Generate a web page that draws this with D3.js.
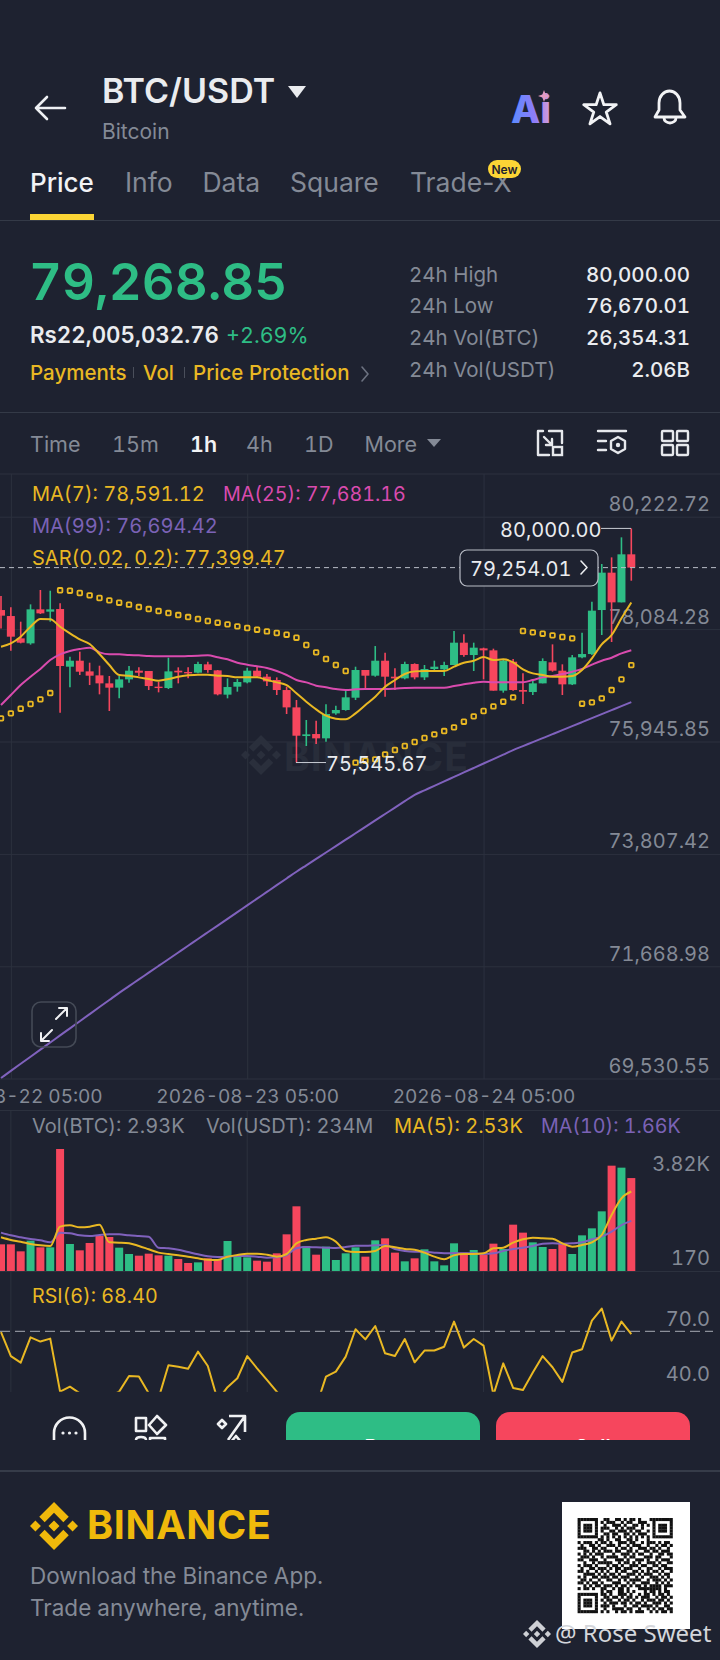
<!DOCTYPE html>
<html><head><meta charset="utf-8">
<style>html,body{margin:0;padding:0;background:#1e2230}svg{display:block}text{font-family:Inter,sans-serif;font-feature-settings:"tnum"}</style>
<script src="https://cdn.jsdelivr.net/npm/d3@7/dist/d3.min.js"></script>
</head><body><svg id="c" width="720" height="1660" viewBox="0 0 720 1660"></svg>
<script>
const opens=[78447,78333,77908,77813,78460,78416,78466,77369,77483,77280,77204,77052,76970,77128,77293,77287,76989,76963,77293,77268,77255,77414,77299,76837,76989,77071,77293,77179,77116,76925,76595,76050,76088,76006,76481,76545,76779,77306,77198,77483,77179,77147,77420,77166,77325,77319,77401,77826,77591,77718,77680,76913,77464,76925,76887,77052,77452,77293,77033,77547,77610,78447,79158,78593,79507];
const highs=[78714,78498,78225,78555,78828,78815,78574,77559,77655,77445,77388,77192,77192,77382,77357,77287,77078,77540,77357,77357,77464,77464,77306,77147,77135,77350,77382,77230,77166,76989,76735,76355,76342,76653,76627,76913,77369,77306,77762,77636,77338,77464,77433,77401,77483,77464,78048,77984,77826,77731,77712,77509,77515,77242,77128,77528,77794,77414,77591,78016,78606,79323,79449,79830,80000];
const lows=[78098,77674,77813,77788,78371,78225,76494,76976,77211,77020,76843,76526,76767,77065,77192,76925,76881,76944,77052,77147,77242,77255,76824,76767,76894,77052,77166,77001,76830,76469,75545.67,75860,75898,75942,76456,76532,76735,76957,77179,76798,76925,77128,77128,77116,77274,77192,77401,77559,77287,77128,76913,76875,76913,76659,76830,77052,77274,76830,77020,77528,77591,77972,77839,78593,79005];
const closes=[78340,77940,77826,78460,78384,78460,77382,77483,77274,77198,77052,76970,77128,77293,77255,77001,76963,77280,77261,77242,77420,77306,76843,76982,77078,77293,77179,77090,76925,76595,76056,76082,76006,76469,76545,76786,77306,77198,77483,77179,77147,77420,77166,77325,77369,77401,77826,77591,77731,77680,76913,77483,76925,76894,77052,77477,77293,77033,77547,77610,78435,79158,78593,79507,79254.01];
const ma7=[77750,77813,77940,78130,78276,78270,78130,78003,77889,77800,77610,77401,77211,77198,77166,77135,77103,77135,77179,77204,77217,77217,77198,77192,77166,77166,77166,77116,77071,77020,76862,76703,76557,76437,76380,76367,76481,76640,76798,76989,77116,77230,77280,77287,77287,77287,77369,77445,77483,77553,77496,77509,77452,77319,77242,77211,77179,77179,77192,77306,77528,77794,77972,78289,78591.12];
const ma25=[76640,76830,77020,77179,77325,77496,77604,77667,77705,77731,77642,77604,77604,77591,77585,77572,77566,77566,77566,77572,77578,77585,77547,77509,77445,77407,77376,77344,77287,77211,77116,77071,77008,76976,76944,76925,76938,76944,76944,76944,76951,76963,76970,76970,76970,76970,77001,77033,77065,77084,77071,77071,77071,77071,77116,77166,77192,77230,77274,77325,77407,77483,77540,77623,77681.16];
const ma99=[69544,69679,69814,69949,70084,70219,70354,70489,70624,70759,70894,71029,71164,71292,71420,71548,71676,71804,71932,72060,72188,72316,72444,72572,72700,72828,72956,73084,73212,73340,73468,73590,73712,73834,73956,74078,74200,74322,74444,74566,74688,74810,74932,75017,75102,75187,75272,75357,75442,75527,75612,75697,75782,75858,75934,76010,76086,76162,76238,76314,76390,76466,76542,76618,76694.42];
const sar=[76386,76481,76570,76659,76748,76868,78822,78815,78771,78726,78676,78631,78587,78549,78504,78466,78428,78390,78352,78314,78276,78238,78206,78175,78137,78105,78073,78041,78010,77978,77921,77782,77642,77515,77401,77287,75543,75581,75606,75701,75784,75860,75936,76012,76082,76145,76215,76323,76424,76526,76614,76703,76786,78048,78022,77997,77965,77934,77908,76665,76691,76767,76925,77128,77399.47];
const vols=[962,962,754,1071,873,873,3793,972,784,1002,1210,1180,863,675,625,685,635,625,526,408,427,546,517,1061,596,576,477,447,695,1259,2091,913,655,893,497,695,873,596,1081,1140,715,457,546,814,457,338,992,715,794,645,982,823,1546,1309,1021,883,823,992,675,1229,1437,1942,3298,3239,2930];
const volMa5=[1170,1091,1041,972,932,913,1487,1526,1467,1487,1546,1021,1012,992,913,814,715,675,635,596,546,507,497,596,645,685,685,655,596,675,992,1091,1130,1170,1041,764,734,734,764,913,873,823,804,715,596,517,635,675,675,695,843,863,1012,1111,1160,1140,1130,992,893,942,1021,1239,1833,2328,2530];
const volMa10=[1309,1229,1170,1120,1081,1021,1309,1289,1229,1210,1239,1259,1259,1229,1210,1190,863,843,804,734,665,606,586,596,616,616,596,566,576,645,843,883,873,863,853,883,922,922,932,942,823,764,744,744,715,695,705,695,695,675,695,764,823,863,913,982,992,982,992,1021,1111,1190,1338,1536,1660];
const rsi6=[69.5,56.5,52.9,66.7,64.4,66,37.1,39.8,36.2,32.5,32.5,34.4,37.1,45.6,45.3,36.2,33.5,51.5,50.7,49.6,58.9,51.1,32.5,39.5,44.4,56.5,49.8,43.5,37.1,30.7,27.1,28.9,28.9,45.3,48,56.2,71.1,65.6,72.9,58,56.5,65.8,53.1,59.5,59.5,61.6,75.3,61.1,65.8,62.2,35.3,52.5,39.1,38,47.5,56.5,50.4,42.4,58.4,60.2,75.8,82.4,64.9,75.3,68.4];
const priceTicks=[80222.72,78084.28,75945.85,73807.42,71668.98,69530.55];
const gridIdx=[1,25,49];
const timeLabels=["2026-08-22 05:00","2026-08-23 05:00","2026-08-24 05:00"];
const tabs=["Price","Info","Data","Square","Trade-X"];
const intervals=["Time","15m","1h","4h","1D","More"];
const statLabels=["24h High","24h Low","24h Vol(BTC)","24h Vol(USDT)"];
const statValues=["80,000.00","76,670.01","26,354.31","2.06B"];
const qrRows=["111111100110011010110100011111111","100000101011100101100111001000001","101110100100111010011010101011101","101110101110010101110010001011101","101110101001101110101100101011101","100000100110110011010111001000001","111111101010101010101010101111111","000000011010011001101000100000000","101110101101001110110010111010110","010011010011101001011100100101101","111001101100010110100111011010010","001101010111011001101001101101110","101010111000100111010110010011011","011101001011110010110001110110001","110011100100011101001110100101110","001001011111001011010100111010011","101110100010110100111011001101100","010011011101011011100100110010111","110100101010010110011010101101001","001111010101101001110101110010110","101001101110110111001010011101010","011010010011001010111100101110101","110101101000111001010011100101010","001010110111010110101101011110111","101101001100101101000111111110100","000000001011001101010001011010110","111111101101001110100101101011010","100000100110110101101011100101101","101110101011001011010010111011010","101110100101110110101101001110101","101110101110100010011011110100110","100000100100111101100100101011011","111111101010010110101110010101101"];

const BG="#1e2230",GREEN="#2ebd85",RED="#f6465d",YEL="#e9b823",PINK="#d94bae",PUR="#7b62b6",GRAY="#848a96",GRID="#2c313e";
const svg=d3.select("#c");
const defs=svg.append("defs");
defs.append("clipPath").attr("id","clipP").append("rect").attr("x",0).attr("y",474).attr("width",720).attr("height",605);
defs.append("clipPath").attr("id","clipR").append("rect").attr("x",0).attr("y",1300).attr("width",720).attr("height",91.7);
defs.append("clipPath").attr("id","clipB").append("rect").attr("x",0).attr("y",1400).attr("width",720).attr("height",40);
const ai=defs.append("linearGradient").attr("id","ai").attr("x1",0).attr("x2",1).attr("y1",0).attr("y2",0);
ai.append("stop").attr("offset","0").attr("stop-color","#5a8cff");
ai.append("stop").attr("offset",".6").attr("stop-color","#8f7cf8");
ai.append("stop").attr("offset","1").attr("stop-color","#d8a0d8");

function T(s,x,y,size,fill,weight,anchor,g){return (g||svg).append("text").text(s).attr("x",x).attr("y",y).attr("font-size",size).attr("fill",fill).attr("font-weight",weight||400).attr("text-anchor",anchor||"start");}
const logoPaths=["M38.73 53.2l24.59-24.58 24.6 24.6 14.3-14.31L63.32 0 24.43 38.9z","M0 63.31l14.3-14.31 14.31 14.31-14.31 14.3z","M38.73 73.41l24.59 24.59 24.6-24.6 14.31 14.29-38.9 38.91-38.91-38.88v-.03z","M98 63.31l14.3-14.31 14.31 14.3-14.31 14.32z","M77.83 63.3L63.32 48.78 52.59 59.51l-1.24 1.23-2.54 2.54 14.51 14.5 14.51-14.47z"];
function logo(x,y,s,fill,op){const g=svg.append("g").attr("transform",`translate(${x},${y}) scale(${s/126.61})`).attr("fill",fill).attr("opacity",op||1);logoPaths.forEach(d=>g.append("path").attr("d",d));}

// header
const ln=(d,w,c)=>svg.append("path").attr("d",d).attr("fill","none").attr("stroke",c||"#eef0f3").attr("stroke-width",w||3).attr("stroke-linecap","round").attr("stroke-linejoin","round");
ln("M36 108H65M47 97L36 108L47 119",2.6);
T("BTC/USDT",102,103,34,"#eaecef",600).attr("letter-spacing",.05);
svg.append("path").attr("d","M288 86H306L297 98Z").attr("fill","#eaecef");
T("Bitcoin",102,139,21,GRAY);
T("Ai",511,123,38,"url(#ai)",800);
svg.append("path").attr("d","M544 90L545.6 94.4L550 96L545.6 97.6L544 102L542.4 97.6L538 96L542.4 94.4Z").attr("fill","#e59bc0");
svg.append("path").attr("d",d3.symbol(d3.symbolStar,330)()).attr("transform","translate(600,110)").attr("fill","none").attr("stroke","#f2f3f5").attr("stroke-width",2.8).attr("stroke-linejoin","round");
ln("M655 117H685L680 110V103A10.5 12 0 0 0 659 103V110ZM664 118A6 5 0 0 0 676 118",2.8,"#f2f3f5");
const tabX=[30,125,202.5,290,410];
tabs.forEach((t,i)=>T(t,tabX[i],192,i==0?26:26.5,i==0?"#f2f3f5":GRAY,i==0?500:400).style("font-feature-settings","normal"));
svg.append("rect").attr("x",30).attr("y",214).attr("width",64).attr("height",6).attr("fill","#fcd535");
svg.append("rect").attr("x",0).attr("y",220).attr("width",720).attr("height",1).attr("fill","#343a47");
svg.append("rect").attr("x",488).attr("y",160).attr("width",33).attr("height",18).attr("rx",9).attr("fill","#fcd535");
T("New",504.5,173.5,12,"#1e2230",600,"middle");
T("79,268.85",29,300,51,GREEN,600);
T("Rs22,005,032.76",30,343,22.3,"#eaecef",600);
T("+2.69%",226,343,21.5,GREEN,400);
T("Payments",30,380,20.5,YEL,500);T("Vol",143,380,20.5,YEL,500);T("Price Protection",193,380,20.5,YEL,500);
[133,184].forEach(x=>svg.append("rect").attr("x",x).attr("y",367).attr("width",1).attr("height",11).attr("fill","#4a4f5b"));
ln("M362 367L368 374L362 381",1.6,"#6c7280");
const statY=[282,313,345,377];
statLabels.forEach((s,i)=>T(s,409,statY[i],20.5,GRAY));
statValues.forEach((s,i)=>T(s,690,statY[i],20.5,"#eaecef",500,"end"));
svg.append("rect").attr("x",0).attr("y",412).attr("width",720).attr("height",1).attr("fill","#343a47");
const intX=[30,112,190,246,304,364.5];
intervals.forEach((t,i)=>T(t,intX[i],452,21.5,i==2?"#f2f3f5":GRAY,i==2?600:400));
svg.append("path").attr("d","M427 439H441L434 447Z").attr("fill",GRAY);
// tool icons
ln("M549 431H562V443M549 455H538V431H543M544 437L552 445M546 445H552V439",2.4,"#e6e8ec");
svg.append("rect").attr("x",553).attr("y",447).attr("width",9).attr("height",8).attr("fill","none").attr("stroke","#e6e8ec").attr("stroke-width",2.4);
ln("M598 431H626M598 441H606M598 450H606M618 437L625 441V449L618 453L611 449V441Z",2.4,"#e6e8ec");
svg.append("circle").attr("cx",618).attr("cy",445).attr("r",2.2).attr("fill","#e6e8ec");
[[662,431],[677,431],[662,445],[677,445]].forEach(p=>svg.append("rect").attr("x",p[0]).attr("y",p[1]).attr("width",11).attr("height",10).attr("rx",1).attr("fill","none").attr("stroke","#e6e8ec").attr("stroke-width",2.4));

// scales
const x=d3.scaleLinear().domain([0,64]).range([1,631.3]);
const y=d3.scaleLinear().domain([80222.72,69530.55]).range([516.7,1078.7]);
const yV=d3.scaleLinear().domain([170,3820]).range([1271,1148.1]);
const yR=d3.scaleLinear().domain([70,40]).range([1331.3,1386.3]);
const idx=d3.range(opens.length);

// grid
svg.append("rect").attr("x",0).attr("y",473.5).attr("width",720).attr("height",1).attr("fill",GRID);
const gx=svg.append("g").attr("transform","translate(0,1079)").call(d3.axisBottom(x).tickValues(gridIdx).tickSize(-605).tickFormat((d,i)=>timeLabels[i]));
gx.select(".domain").attr("stroke",GRID).attr("d","M0,0H720");
gx.selectAll("line").attr("stroke",GRID);
gx.selectAll("text").attr("font-size",19).attr("fill",GRAY).attr("y",0).attr("dy",24);
gx.attr("font-family",null);
const gy=svg.append("g").call(d3.axisRight(y).tickValues(priceTicks).tickSize(720).tickFormat(d3.format(",.2f")));
gy.attr("font-family",null);
gy.select(".domain").remove();
gy.selectAll("line").attr("stroke",GRID);
gy.selectAll("text").attr("text-anchor","end").attr("x",710).attr("dy",-6).attr("font-size",20).attr("fill",GRAY);
gy.selectAll(".tick").filter(d=>d===69530.55).select("line").remove();
// lower pane verticals
[[1110,1392]].forEach(r=>gridIdx.forEach(i=>svg.append("line").attr("x1",x(i)).attr("x2",x(i)).attr("y1",r[0]).attr("y2",r[1]).attr("stroke",GRID)));
svg.append("rect").attr("x",0).attr("y",1110).attr("width",720).attr("height",1).attr("fill",GRID);
svg.append("rect").attr("x",0).attr("y",1271).attr("width",720).attr("height",1).attr("fill",GRID);

// watermark
logo(241,735,40,"#2a2f3c");
T("BINANCE",284,771,39,"#282d3a",700).attr("letter-spacing",1);

// candles
const P=svg.append("g").attr("clip-path","url(#clipP)");
const col=i=>closes[i]>=opens[i]?GREEN:RED;
P.selectAll(".w").data(idx).join("line").attr("x1",x).attr("x2",x).attr("y1",i=>y(highs[i])).attr("y2",i=>y(lows[i])).attr("stroke",col).attr("stroke-width",1.6);
P.selectAll(".b").data(idx).join("rect").attr("x",i=>x(i)-4).attr("width",8).attr("y",i=>y(Math.max(opens[i],closes[i]))).attr("height",i=>Math.max(1.3,Math.abs(y(opens[i])-y(closes[i])))).attr("fill",col);
const line=(sc)=>d3.line().x((d,i)=>x(i)).y(d=>sc(d)).curve(d3.curveMonotoneX);
const draw=(g,arr,sc,c,w)=>g.append("path").attr("d",line(sc)(arr)).attr("fill","none").attr("stroke",c).attr("stroke-width",w||2).attr("stroke-linejoin","round");
draw(P,ma99,y,"#8062bd");
draw(P,ma25,y,PINK);
draw(P,ma7,y,YEL);
P.selectAll(".s").data(sar).join("rect").attr("x",(d,i)=>x(i)-2.3).attr("y",d=>y(d)-2.3).attr("width",4.6).attr("height",4.6).attr("rx",.8).attr("fill","#1e2230").attr("stroke",YEL).attr("stroke-width",1.8);

// legend
T("MA(7): 78,591.12",32,501,20,YEL);T("MA(25): 77,681.16",223,501,19.7,PINK);
T("MA(99): 76,694.42",32,533,20,PUR);T("SAR(0.02, 0.2): 77,399.47",32,565,20,YEL);

// current price
svg.append("line").attr("x1",0).attr("x2",720).attr("y1",y(79254.01)).attr("y2",y(79254.01)).attr("stroke","#b9bdc6").attr("stroke-width",1).attr("stroke-dasharray","5 4");
svg.append("rect").attr("x",460).attr("y",550).attr("width",138).attr("height",36).attr("rx",7).attr("fill",BG).attr("stroke","#b9bdc6").attr("stroke-width",1.2);
T("79,254.01",470,576,20,"#eaecef");
ln("M581 561L587 567.5L581 574",1.6,"#eaecef");
// hi-lo labels
svg.append("line").attr("x1",601).attr("x2",631).attr("y1",y(80000)).attr("y2",y(80000)).attr("stroke","#c8ccd3");
T("80,000.00",601.5,537,20,"#eaecef",400,"end");
svg.append("line").attr("x1",296).attr("x2",326).attr("y1",y(75545.67)).attr("y2",y(75545.67)).attr("stroke","#c8ccd3");
T("75,545.67",326,771,20,"#eaecef");

// expand button
svg.append("rect").attr("x",32).attr("y",1002).attr("width",44).attr("height",45).attr("rx",9).attr("fill","none").attr("stroke","#444a56").attr("stroke-width",1.6);
ln("M56 1019L67 1008M59 1008H67V1016M52 1030L41 1041M41 1033V1041H49",2,"#f0f1f3");

// volume
const V=svg.append("g");
V.selectAll("rect").data(idx).join("rect").attr("x",i=>x(i)-4).attr("width",8).attr("y",i=>yV(vols[i])).attr("height",i=>1271-yV(vols[i])).attr("fill",col);
draw(V,volMa10,yV,"#8062bd");
draw(V,volMa5,yV,YEL);
T("Vol(BTC): 2.93K",32,1133,20,GRAY);T("Vol(USDT): 234M",206,1133,20,GRAY);
T("MA(5): 2.53K",394,1133,20,YEL);T("MA(10): 1.66K",541,1133,19.7,PUR);
T("3.82K",710,1171,20,GRAY,400,"end");T("170",710,1265,20,GRAY,400,"end");

// RSI
T("RSI(6): 68.40",32,1303,19.7,YEL);
svg.append("line").attr("x1",0).attr("x2",713).attr("y1",yR(70)).attr("y2",yR(70)).attr("stroke","#8b8f99").attr("stroke-width",1.2).attr("stroke-dasharray","10 5");
const R=svg.append("g").attr("clip-path","url(#clipR)");
R.append("path").attr("d",d3.line().x((d,i)=>x(i)).y(d=>yR(d))(rsi6)).attr("fill","none").attr("stroke",YEL).attr("stroke-width",2).attr("stroke-linejoin","round");
T("70.0",710,1326,20,GRAY,400,"end");T("40.0",710,1381,20,GRAY,400,"end");

// bottom bar (clipped)
const B=svg.append("g").attr("clip-path","url(#clipB)");
B.append("rect").attr("x",286).attr("y",1412).attr("width",194).attr("height",60).attr("rx",14).attr("fill",GREEN);
B.append("rect").attr("x",496).attr("y",1412).attr("width",194).attr("height",60).attr("rx",14).attr("fill","#f6465d");
T("Buy",383,1454,20,"#fff",600,"middle",B);T("Sell",593,1454,20,"#fff",600,"middle",B);
const ic=(d,w)=>B.append("path").attr("d",d).attr("fill","none").attr("stroke","#f0f1f3").attr("stroke-width",w||2.6).attr("stroke-linejoin","round");
ic("M54 1444V1433A15.5 15.5 0 0 1 85 1433V1444");
[63,69.5,76].forEach(c=>B.append("circle").attr("cx",c).attr("cy",1433).attr("r",1.6).attr("fill","#f0f1f3"));
ic("M136 1418H146V1431H136ZM157 1416L166 1425L157 1434L149 1425ZM136 1442V1440Q136 1437 141 1437Q146 1437 146 1440V1442M150 1442V1438H165V1442");
ic("M222 1420L226 1424L222 1428L218 1424ZM229 1416H245V1432M245 1416L228 1440M231 1442L236 1436L241 1442");

// footer
svg.append("rect").attr("x",0).attr("y",1470).attr("width",720).attr("height",2).attr("fill","#363c49");
logo(30,1502,48,"#f0b90b");
T("BINANCE",87,1539,39.5,"#f0b90b",700).attr("letter-spacing",.6);
T("Download the Binance App.",30,1584,22.5,GRAY);
T("Trade anywhere, anytime.",30,1616,22.5,GRAY);
svg.append("rect").attr("x",562).attr("y",1502).attr("width",128).attr("height",127).attr("fill","#fff");
const qx=d3.scaleBand().domain(d3.range(33)).range([577.6,672.6]);
const qy=d3.scaleBand().domain(d3.range(33)).range([1518,1613]);
const cells=[];qrRows.forEach((r,j)=>r.split("").forEach((v,i)=>{if(v==="1")cells.push([i,j]);}));
svg.append("g").selectAll("rect").data(cells).join("rect").attr("x",d=>qx(d[0])).attr("y",d=>qy(d[1])).attr("width",qx.bandwidth()+.2).attr("height",qy.bandwidth()+.2).attr("fill","#111");
logo(523,1620,28,"#d8dade",.95);
T("@ Rose Sweet",555,1642,24,"#d4d6db",400).style("font-family","'Noto Sans'");
</script></body></html>
